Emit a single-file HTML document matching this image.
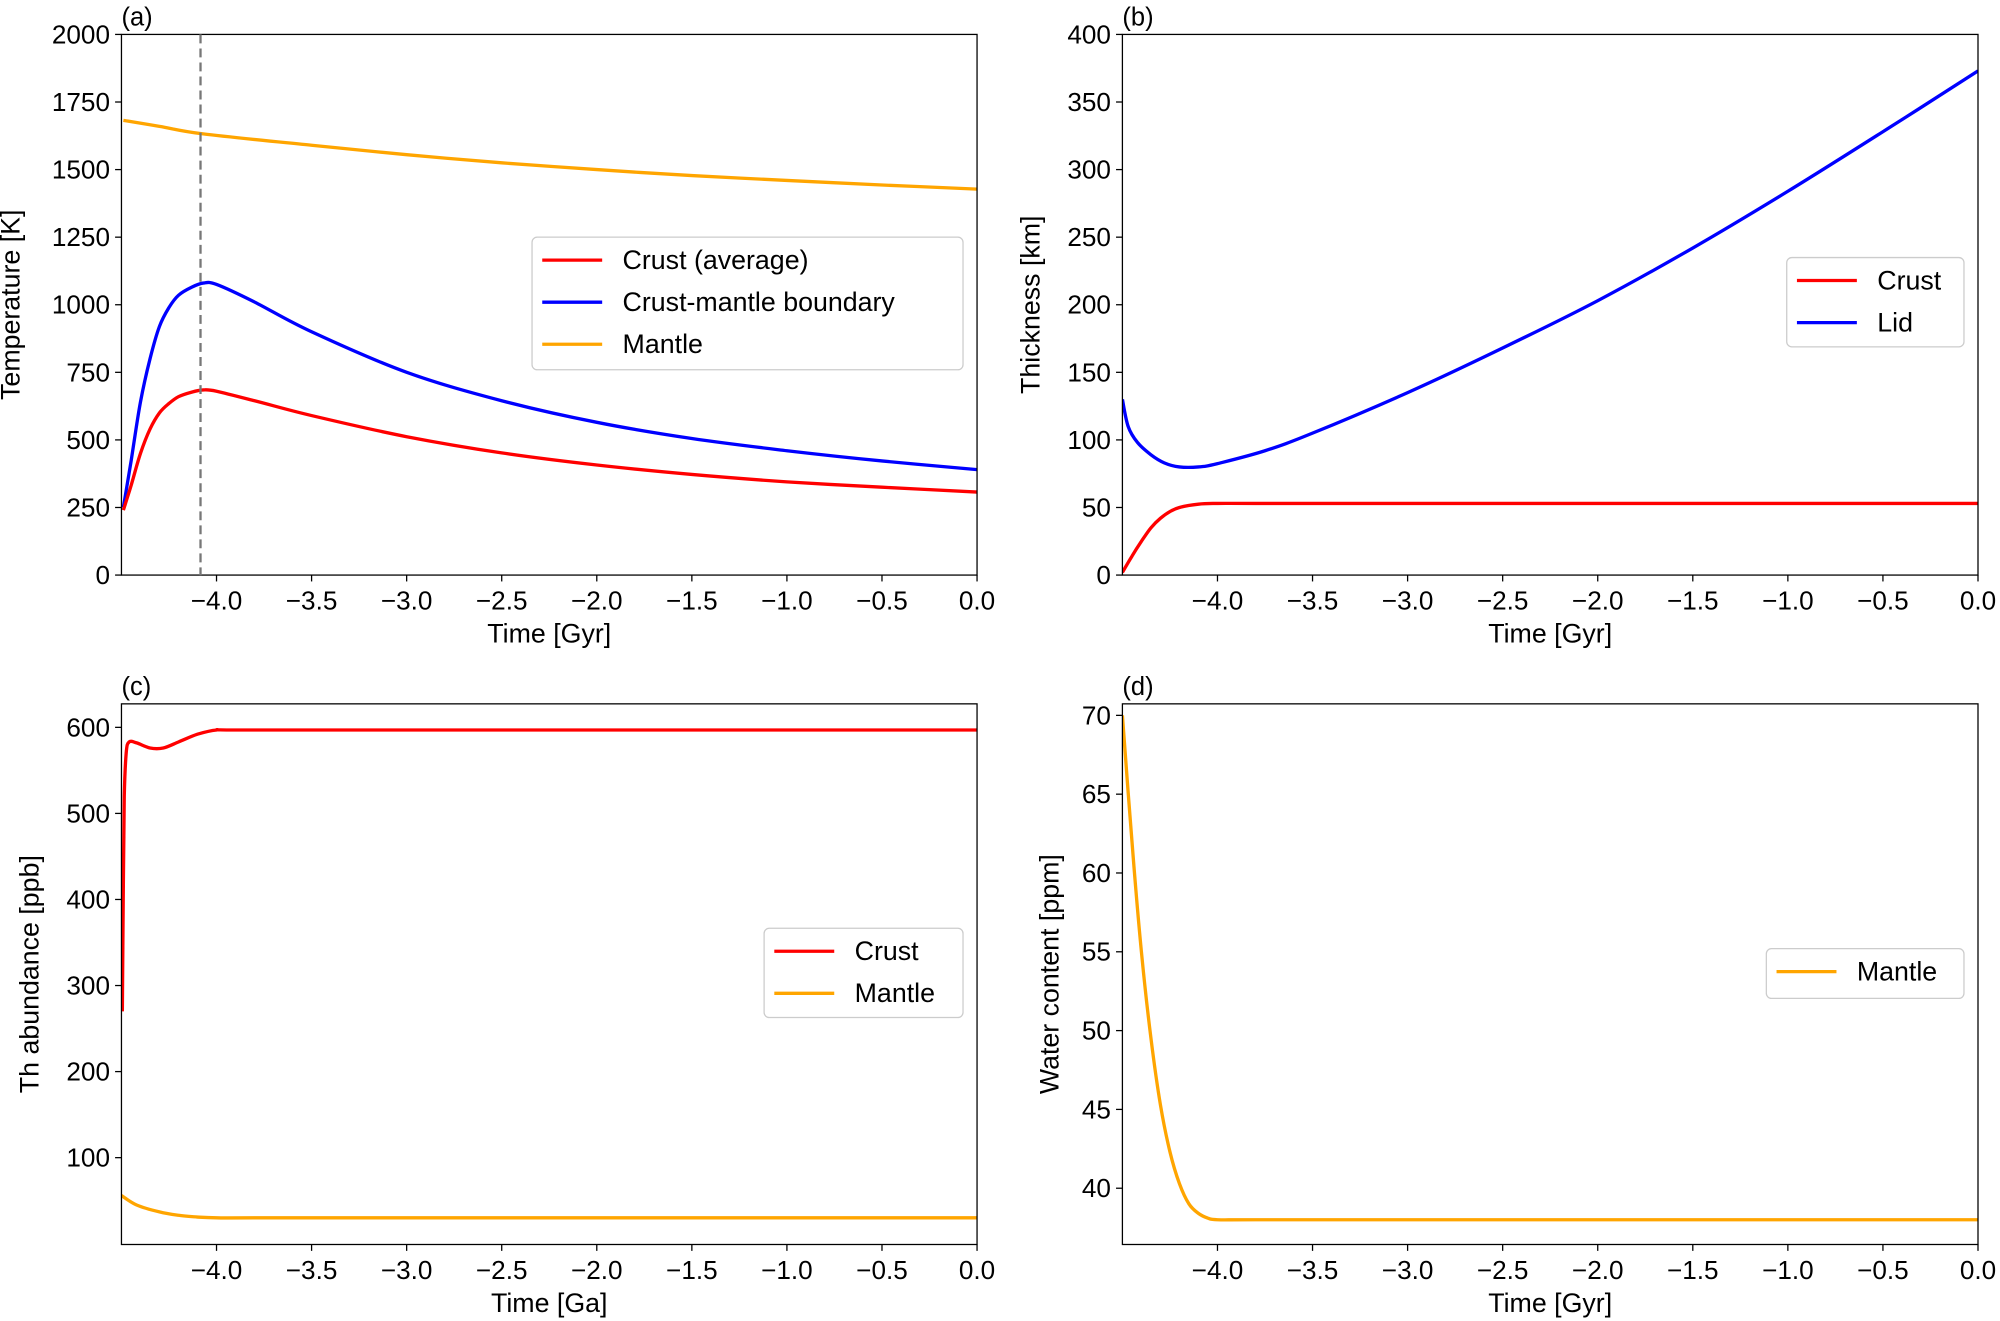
<!DOCTYPE html>
<html><head><meta charset="utf-8"><style>
html,body{margin:0;padding:0;background:#fff}
svg{display:block}
text{font-family:"Liberation Sans","DejaVu Sans",sans-serif;fill:#000}
</style></head><body>
<svg id="s" width="2000" height="1321" viewBox="0 0 1568 1036" xmlns="http://www.w3.org/2000/svg"></svg>
<script>
const S=document.getElementById('s');let h='';
function cr(pts){
 let d='M'+pts[0][0].toFixed(1)+','+pts[0][1].toFixed(1);
 for(let i=0;i<pts.length-1;i++){const p0=pts[i-1]||pts[i],p1=pts[i],p2=pts[i+1],p3=pts[i+2]||p2;
  const c1=[p1[0]+(p2[0]-p0[0])/6,p1[1]+(p2[1]-p0[1])/6],c2=[p2[0]-(p3[0]-p1[0])/6,p2[1]-(p3[1]-p1[1])/6];
  d+=' C'+c1.map(v=>v.toFixed(1))+' '+c2.map(v=>v.toFixed(1))+' '+p2[0].toFixed(1)+','+p2[1].toFixed(1);}
 return d;}
function panel(L,R,T,B,ylo,yhi,yticks,ylab,xlab,tag,series,legend,ylabX){
 const X=t=>R+(R-L)/4.5*t, Y=v=>B-(v-ylo)/(yhi-ylo)*(B-T);
 h+=`<svg x="${L}" y="${T}" width="${R-L}" height="${B-T}" viewBox="${L} ${T} ${R-L} ${B-T}" overflow="hidden">`;
 for(const s of series){h+=`<path d="${cr(s.p.map(q=>[X(q[0]),Y(q[1])]))}" fill="none" stroke="${s.c}" stroke-width="2.6"/>`;}
 h+=`</svg>`;
 h+=`<rect x="${L}" y="${T}" width="${R-L}" height="${B-T}" fill="none" stroke="#000" stroke-width="1"/>`;
 for(let t=-4;t<=0.001;t+=0.5){const x=X(t);h+=`<line x1="${x}" y1="${B}" x2="${x}" y2="${B+5}" stroke="#000"/><text x="${x}" y="${B+27}" font-size="20.5" text-anchor="middle">${t.toFixed(1).replace('-','−')}</text>`;}
 for(const v of yticks){const y=Y(v);h+=`<line x1="${L}" y1="${y}" x2="${L-5}" y2="${y}" stroke="#000"/><text x="${L-9}" y="${y+7}" font-size="20.5" text-anchor="end">${v}</text>`;}
 h+=`<text x="${(L+R)/2}" y="${B+53}" font-size="21" text-anchor="middle">${xlab}</text>`;
 h+=`<text transform="translate(${ylabX},${(T+B)/2}) rotate(-90)" font-size="21" text-anchor="middle">${ylab}</text>`;
 h+=`<text x="${L}" y="${T-7}" font-size="20">${tag}</text>`;
 const lg=legend;h+=`<rect x="${lg.x}" y="${lg.y}" width="${lg.w}" height="${lg.h}" rx="4" fill="#fff" fill-opacity="0.8" stroke="#ccc"/>`;
 lg.e.forEach((e,i)=>{const y=lg.y+18+i*33;h+=`<line x1="${lg.x+8}" y1="${y}" x2="${lg.x+55}" y2="${y}" stroke="${e[1]}" stroke-width="2.6"/><text x="${lg.x+71}" y="${y+7}" font-size="21">${e[0]}</text>`;});
 return {X,Y};
}
panel(95,766,27,451,0,2000,[0,250,500,750,1000,1250,1500,1750,2000],'Temperature [K]','Time [Gyr]','(a)',[
 {c:'#0000ff',p:[[-4.49,250],[-4.45,420],[-4.4,640],[-4.35,800],[-4.3,920],[-4.25,990],[-4.2,1035],[-4.13,1065],[-4.07,1080],[-4.0,1075],[-3.8,1010],[-3.5,900],[-3,750],[-2.5,645],[-2,565],[-1.5,505],[-1,460],[-0.5,422],[0,390]]},
 {c:'#ff0000',p:[[-4.49,240],[-4.45,330],[-4.4,450],[-4.35,540],[-4.3,600],[-4.25,635],[-4.2,660],[-4.13,677],[-4.07,685],[-4.0,680],[-3.8,645],[-3.5,590],[-3,512],[-2.5,452],[-2,407],[-1.5,372],[-1,345],[-0.5,325],[0,307]]},
 {c:'#ffa500',p:[[-4.49,1682],[-4.3,1660],[-4.07,1632],[-3.5,1590],[-3,1555],[-2.5,1525],[-2,1500],[-1.5,1478],[-1,1460],[-0.5,1443],[0,1428]]}],
 {x:417,y:186,w:338,h:104,e:[['Crust (average)','#ff0000'],['Crust-mantle boundary','#0000ff'],['Mantle','#ffa500']]},15);
h+=`<line x1="157" y1="27" x2="157" y2="451" stroke="#777" stroke-width="1.8" stroke-dasharray="7,4"/>`;
panel(880,1551,27,451,0,400,[0,50,100,150,200,250,300,350,400],'Thickness [km]','Time [Gyr]','(b)',[
 {c:'#0000ff',p:[[-4.5,130],[-4.47,110],[-4.42,98],[-4.35,89],[-4.28,83],[-4.2,80],[-4.1,80],[-4.0,82.5],[-3.75,92],[-3.5,105],[-3,135],[-2.5,168],[-2,203],[-1.5,242],[-1,284],[-0.5,328],[0,373]]},
 {c:'#ff0000',p:[[-4.5,2],[-4.45,14],[-4.4,25],[-4.35,35],[-4.3,42],[-4.25,47],[-4.2,50],[-4.1,52.5],[-4.0,53],[-3.8,53],[-3,53],[-1.5,53],[0,53]]}],
 {x:1401,y:202,w:139,h:70,e:[['Crust','#ff0000'],['Lid','#0000ff']]},815);
panel(95,766,552,976,-0.9,627.3,[100,200,300,400,500,600],'Th abundance [ppb]','Time [Ga]','(c)',[
 {c:'#ff0000',p:[[-4.495,270],[-4.49,420],[-4.485,520],[-4.475,570],[-4.46,583],[-4.42,582],[-4.35,576],[-4.28,576],[-4.2,583],[-4.1,592],[-4.0,597],[-3.9,597],[-3,597],[-1.5,597],[0,597]]},
 {c:'#ffa500',p:[[-4.5,56],[-4.42,45],[-4.3,37],[-4.2,33],[-4.1,31],[-4.0,30],[-3.8,30],[-3,30],[0,30]]}],
 {x:599,y:728,w:156,h:70,e:[['Crust','#ff0000'],['Mantle','#ffa500']]},30);
panel(880,1551,552,976,36.43,70.73,[40,45,50,55,60,65,70],'Water content [ppm]','Time [Gyr]','(d)',[
 {c:'#ffa500',p:[[-4.5,70],[-4.45,62],[-4.4,55],[-4.35,49.5],[-4.3,45.3],[-4.25,42.3],[-4.2,40.3],[-4.15,39],[-4.1,38.4],[-4.05,38.1],[-4.0,38],[-3.8,38],[-3,38],[-1.5,38],[0,38]]}],
 {x:1385,y:744,w:155,h:39,e:[['Mantle','#ffa500']]},830);
S.innerHTML=h;
</script>
</body></html>
